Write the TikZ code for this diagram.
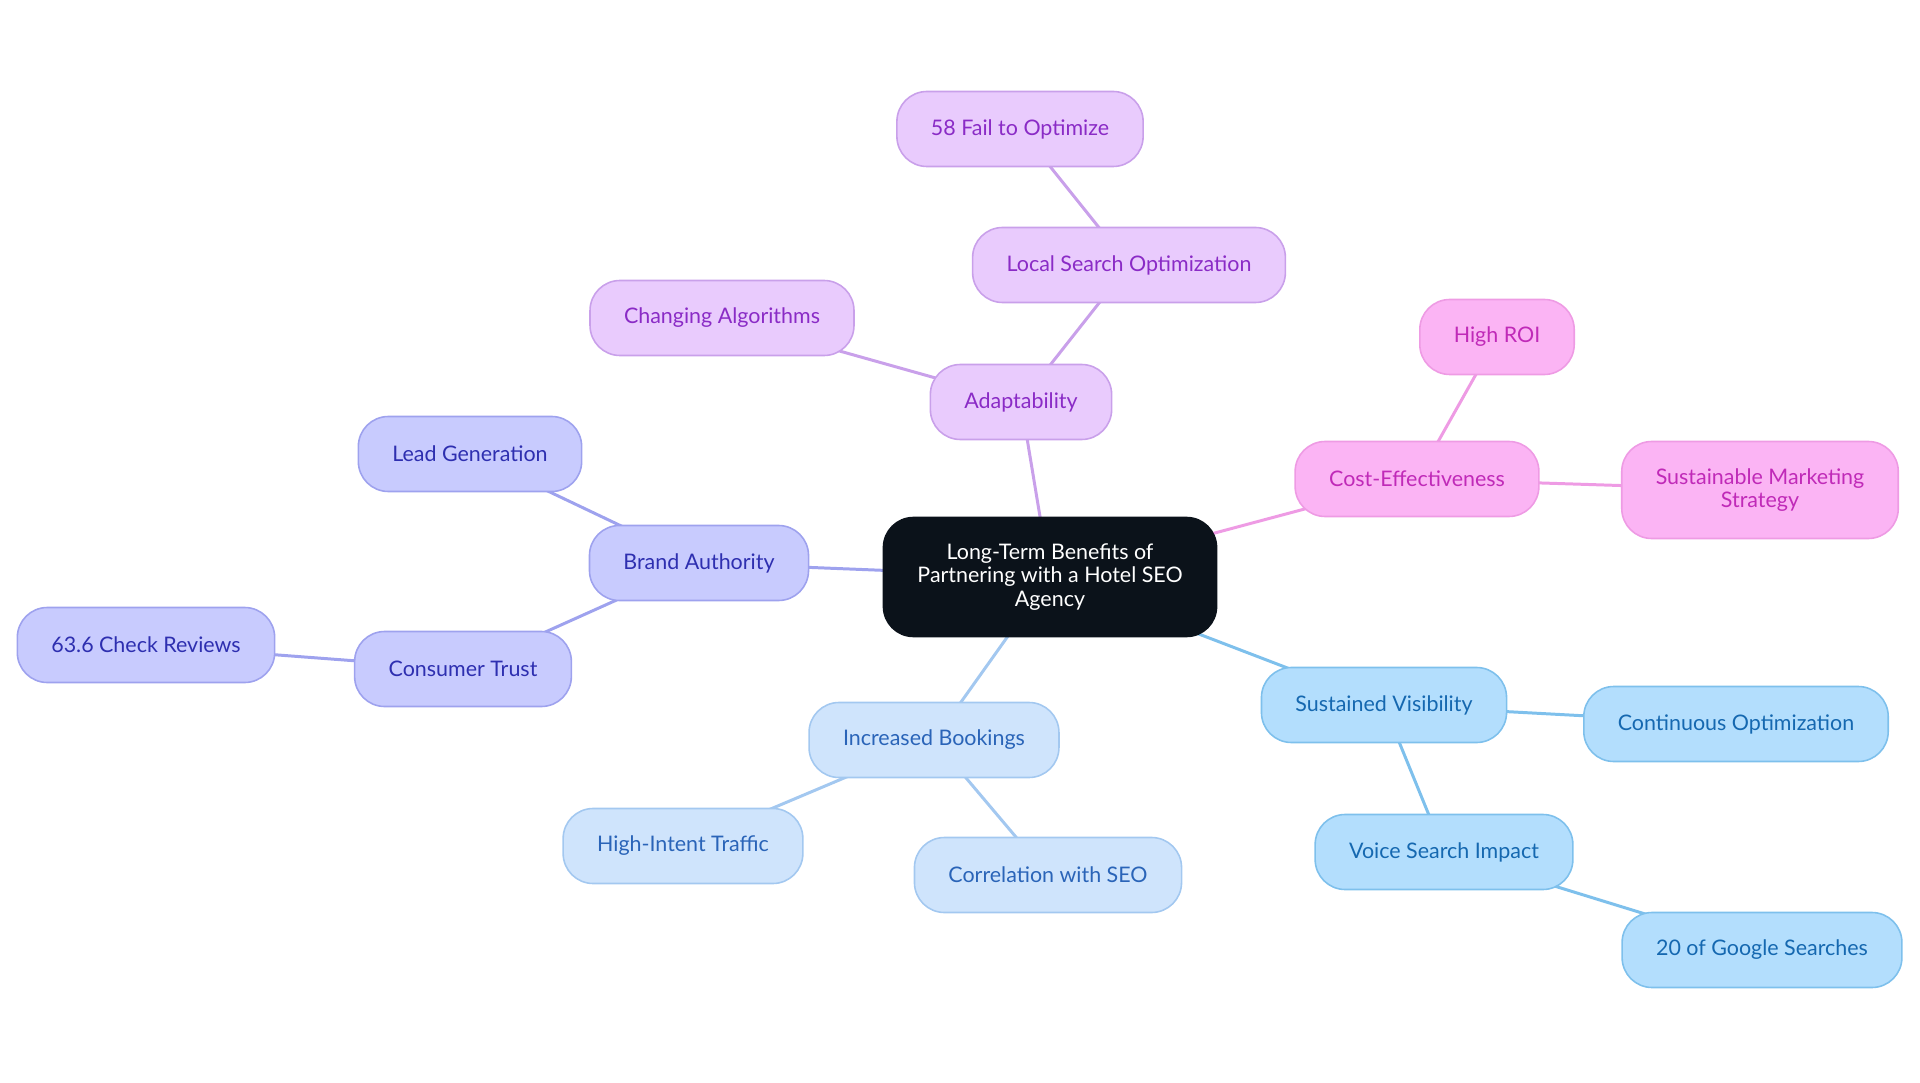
\documentclass[tikz,border=0pt]{standalone}
\usepackage{fontspec}
\setmainfont{Lato}
\usepackage{xcolor}
\usetikzlibrary{positioning, backgrounds}

\definecolor{rootbg}{HTML}{0B121A}
\definecolor{purfill}{HTML}{E9CBFD}
\definecolor{purdraw}{HTML}{C9A0EA}
\definecolor{purtext}{HTML}{8A2BC6}
\definecolor{pinkfill}{HTML}{FBB4F4}
\definecolor{pinkdraw}{HTML}{EE9BE4}
\definecolor{pinktext}{HTML}{C02AB8}
\definecolor{indfill}{HTML}{C8CBFE}
\definecolor{inddraw}{HTML}{9EA2EE}
\definecolor{indtext}{HTML}{2E2FB0}
\definecolor{lbfill}{HTML}{CFE4FC}
\definecolor{lbdraw}{HTML}{A3C8F0}
\definecolor{lbtext}{HTML}{2A64B8}
\definecolor{skyfill}{HTML}{B3DEFD}
\definecolor{skydraw}{HTML}{7EC0EC}
\definecolor{skytext}{HTML}{1568B0}

\begin{document}
\begin{tikzpicture}[
        topic/.style={rectangle, draw, line width=0.45pt, rounded corners=0.3cm, minimum height=0.75cm, inner xsep=0.34cm, align=center, font=\fontsize{6.1}{6.6}\selectfont},
        hub/.style={topic, fill=rootbg, draw=rootbg, text=white, minimum height=1.19cm, minimum width=3.27cm},
        adapt/.style={topic, fill=purfill, draw=purdraw, text=purtext},
        cost/.style={topic, fill=pinkfill, draw=pinkdraw, text=pinktext},
        brand/.style={topic, fill=indfill, draw=inddraw, text=indtext},
        book/.style={topic, fill=lbfill, draw=lbdraw, text=lbtext},
        visib/.style={topic, fill=skyfill, draw=skydraw, text=skytext},
        link/.style={line width=0.85pt},
    ]
        \useasboundingbox (0,0) rectangle (19.2,-10.83);

        % Centre
        \node[hub] (hub) at (10.50,-5.77) {Long-Term Benefits of\\Partnering with a Hotel SEO\\Agency};

        % Adaptability branch
        \node[adapt] (adaptability) at (10.21,-4.02) {Adaptability};
        \node[adapt] (localsearch) at (11.29,-2.65) {Local Search Optimization};
        \node[adapt] (failopt) at (10.20,-1.29) {58 Fail to Optimize};
        \node[adapt] (algorithms) at (7.22,-3.18) {Changing Algorithms};

        % Cost branch
        \node[cost] (costeff) at (14.17,-4.79) {Cost-Effectiveness};
        \node[cost] (roi) at (14.97,-3.37) {High ROI};
        \node[cost, minimum height=0.97cm] (sustain) at (17.60,-4.90) {Sustainable Marketing\\Strategy};

        % Brand branch
        \node[brand] (authority) at (6.99,-5.63) {Brand Authority};
        \node[brand] (leads) at (4.70,-4.54) {Lead Generation};
        \node[brand] (trust) at (4.63,-6.69) {Consumer Trust};
        \node[brand] (reviews) at (1.46,-6.45) {63.6 Check Reviews};

        % Bookings branch
        \node[book] (bookings) at (9.34,-7.40) {Increased Bookings};
        \node[book] (traffic) at (6.83,-8.46) {High-Intent Traffic};
        \node[book] (correlation) at (10.48,-8.75) {Correlation with SEO};

        % Visibility branch
        \node[visib] (visibility) at (13.84,-7.05) {Sustained Visibility};
        \node[visib] (continuous) at (17.36,-7.24) {Continuous Optimization};
        \node[visib] (voice) at (14.44,-8.52) {Voice Search Impact};
        \node[visib] (google) at (17.62,-9.50) {20 of Google Searches};

        % Links
        \begin{scope}[on background layer]
            \draw[link, purdraw] (hub.center) -- (adaptability.center);
            \draw[link, purdraw] (adaptability.center) -- (localsearch.center);
            \draw[link, purdraw] (localsearch.center) -- (failopt.center);
            \draw[link, purdraw] (adaptability.center) -- (algorithms.center);
            \draw[link, pinkdraw] (hub.center) -- (costeff.center);
            \draw[link, pinkdraw] (costeff.center) -- (roi.center);
            \draw[link, pinkdraw] (costeff.center) -- (sustain.center);
            \draw[link, inddraw] (hub.center) -- (authority.center);
            \draw[link, inddraw] (authority.center) -- (leads.center);
            \draw[link, inddraw] (authority.center) -- (trust.center);
            \draw[link, inddraw] (trust.center) -- (reviews.center);
            \draw[link, lbdraw] (hub.center) -- (bookings.center);
            \draw[link, lbdraw] (bookings.center) -- (traffic.center);
            \draw[link, lbdraw] (bookings.center) -- (correlation.center);
            \draw[link, skydraw] (hub.center) -- (visibility.center);
            \draw[link, skydraw] (visibility.center) -- (continuous.center);
            \draw[link, skydraw] (visibility.center) -- (voice.center);
            \draw[link, skydraw] (voice.center) -- (google.center);
        \end{scope}
    \end{tikzpicture}
\end{document}
